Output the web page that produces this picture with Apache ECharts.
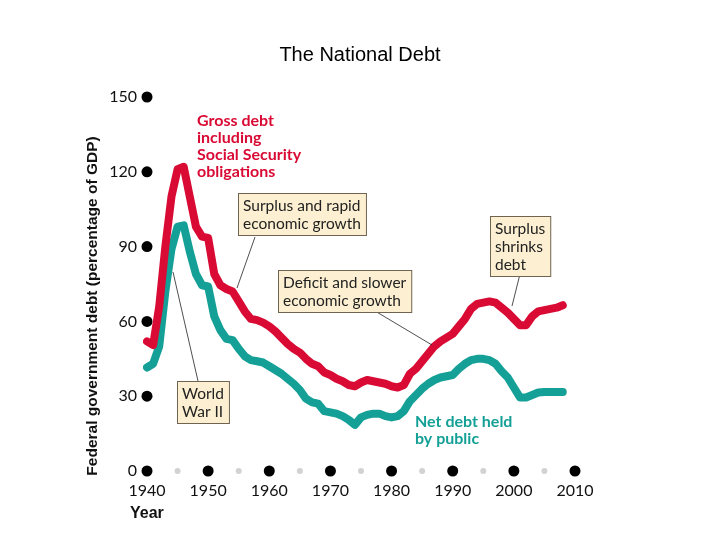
<!DOCTYPE html>
<html><head><meta charset="utf-8">
<script src="https://cdn.jsdelivr.net/npm/echarts@6/dist/echarts.min.js"></script>
<style>html,body{margin:0;padding:0;background:#fff}#c{width:720px;height:540px}</style>
</head><body><div id="c"></div>
<script>
// ---- data ----
const years = [1940,1941,1942,1943,1944,1945,1946,1947,1948,1949,
  1950,1951,1952,1953,1954,1955,1956,1957,1958,1959,
  1960,1961,1962,1963,1964,1965,1966,1967,1968,1969,
  1970,1971,1972,1973,1974,1975,1976,1977,1978,1979,
  1980,1981,1982,1983,1984,1985,1986,1987,1988,1989,
  1990,1991,1992,1993,1994,1995,1996,1997,1998,1999,
  2000,2001,2002,2003,2004,2005,2006,2007,2008];
const grossDebt = [52,50.5,66,90,110,121,122,110,98,94,
  93.5,79,74.5,73,72,68,64,61,60.5,59.5,
  58,56,53.5,51,49,47.5,45,43,42,39.5,
  38.5,37,36,34.5,34,35.5,36.5,36,35.5,35,
  34,33.5,34.5,39,41,44,47,50,52,53.5,
  55,58,61,65,67,67.5,68,67.5,65.5,63.5,
  61,58.5,58.5,62,64,64.5,65,65.5,66.5];
const netDebt = [41.5,43,50,72,89,98,98.5,88,79,74.5,
  74,62,56.5,53,52.5,49,46,44.5,44,43.5,
  42,40.5,39,37,35,32.5,29,27.5,27,24,
  23.5,23,22,20.5,18.5,21.5,22.5,23,23,22,
  21.5,22,24,28,30.5,33,35,36.5,37.5,38,
  38.5,41,43,44.5,45,45,44.5,43,40,37.5,
  33.5,29.5,29.5,30.5,31.5,31.7,31.7,31.7,31.7];
const xTickYears = [1940,1950,1960,1970,1980,1990,2000,2010];
const xMinorYears = [1945,1955,1965,1975,1985,1995,2005];
const yTickValues = [30,60,90,120,150];

const RED = '#d90b35', TEAL = '#14a096';
const labelFont = 'Lato';
const boxStyle = (x, y, txt) => ({
  type: 'text', left: x, top: y, z: 10,
  style: {
    text: txt, font: '15.5px ' + labelFont, fill: '#222', lineHeight: 18,
    backgroundColor: '#fdf0d2', borderColor: '#6e6450', borderWidth: 1,
    padding: [3, 5, 2, 4]
  }
});
const leader = (x1, y1, x2, y2) => ({
  type: 'line', z: 9, shape: {x1, y1, x2, y2}, style: {stroke: '#222', lineWidth: 0.8}
});

const chart = echarts.init(document.getElementById('c'));
chart.setOption({
  animation: false,
  title: {text: 'The National Debt', left: 'center', top: 40,
    textStyle: {fontFamily: 'Liberation Sans', fontSize: 20, fontWeight: 'normal', color: '#000'}},
  grid: {left: 147, right: 145, top: 97, bottom: 69},
  xAxis: {type: 'value', min: 1940, max: 2010, interval: 10,
    axisLine: {show: false}, axisTick: {show: false}, splitLine: {show: false},
    axisLabel: {margin: 12, fontFamily: labelFont, fontSize: 16, color: '#111',
      formatter: v => String(v)},
    name: 'Year', nameLocation: 'start', nameGap: 0,
    nameTextStyle: {fontFamily: 'Liberation Sans', fontWeight: 'bold', fontSize: 16, color: '#111',
      align: 'left', verticalAlign: 'top', padding: [35, 0, 0, -17]}},
  yAxis: {type: 'value', min: 0, max: 150, interval: 30,
    axisLine: {show: false}, axisTick: {show: false}, splitLine: {show: false},
    axisLabel: {margin: 10, fontFamily: labelFont, fontSize: 16, color: '#111'}},
  series: [
    {type: 'line', name: 'Net debt', data: years.map((y, i) => [y, netDebt[i]]),
      showSymbol: false, lineStyle: {color: TEAL, width: 8, join: 'round', cap: 'round'}, z: 3},
    {type: 'line', name: 'Gross debt', data: years.map((y, i) => [y, grossDebt[i]]),
      showSymbol: false, lineStyle: {color: RED, width: 8, join: 'round', cap: 'round'}, z: 4},
    {type: 'scatter', clip: false, symbolSize: 6, itemStyle: {color: '#d2d2d2', opacity: 1}, z: 2,
      data: xMinorYears.map(y => [y, 0])},
    {type: 'scatter', clip: false, symbolSize: 11, itemStyle: {color: '#000', opacity: 1}, z: 2,
      data: xTickYears.map(y => [y, 0])},
    {type: 'scatter', clip: false, symbolSize: 11, itemStyle: {color: '#000', opacity: 1}, z: 2,
      data: yTickValues.map(v => [1940, v])}
  ],
  graphic: [
    {type: 'text', x: 93, y: 306, rotation: Math.PI / 2, z: 10, style: {
      text: 'Federal government debt (percentage of GDP)', align: 'center', verticalAlign: 'middle',
      font: 'bold 15.5px "Liberation Sans"', fill: '#111'}},
    {type: 'text', left: 197, top: 112, z: 10, style: {
      text: 'Gross debt\nincluding\nSocial Security\nobligations',
      font: 'bold 16px ' + labelFont, fill: RED, lineHeight: 17}},
    {type: 'text', left: 415, top: 413, z: 10, style: {
      text: 'Net debt held\nby public', font: 'bold 16px ' + labelFont, fill: TEAL, lineHeight: 17}},
    leader(255, 237, 237, 288),
    leader(173, 272, 198, 381),
    leader(375, 311, 432, 345),
    leader(520, 274, 512, 306),
    boxStyle(238, 193, 'Surplus and rapid\neconomic growth'),
    boxStyle(177, 381, 'World\nWar II'),
    boxStyle(278, 270, 'Deficit and slower\neconomic growth'),
    boxStyle(490, 216, 'Surplus\nshrinks\ndebt')
  ]
});
</script></body></html>
